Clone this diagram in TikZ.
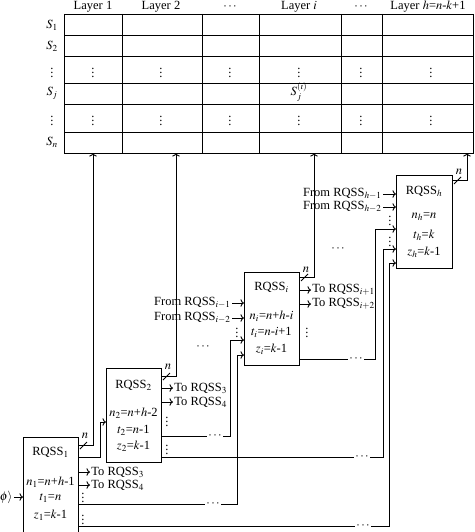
\documentclass[tikz,border=0pt]{standalone}
\usepackage{mathptmx}
\usepackage{fontspec}
\setmainfont{Liberation Serif}
\usetikzlibrary{arrows.meta, calc}

\begin{document}
\begin{tikzpicture}[x=1pt, y=-1pt, line width=0.9pt, >={To}, inner sep=0.5pt,
  font=\fontsize{12.5}{15}\selectfont,
  qbox/.style={draw, anchor=north west, inner sep=0pt, minimum width=55pt, minimum height=93pt},
  tolbl/.style={anchor=west, inner sep=1pt},
  fromlbl/.style={anchor=east, inner sep=1pt},
  dts/.style={fill=white, inner sep=1pt}]
\useasboundingbox (0,0) rectangle (474,532);
\foreach \y in {14,35,56,83,104,132,153} \draw (64,\y) -- (473.5,\y);
\foreach \x in {64,122,202,259,341,382,473.5} \draw (\x,14) -- (\x,153);
\foreach \x/\t in {93/Layer 1, 161/Layer 2, 230/$\cdots$, 299/Layer $i$, 361/$\cdots$, 428/Layer $h$=$n$-$k$+1}
  \node[anchor=base, inner sep=0pt] (hd\x) at (\x,10) {\t};
\foreach \y/\t in {25/$S_1$, 46/$S_2$, 70/$\vdots$, 93/$S_j$, 118/$\vdots$, 142/$S_n$}
  \node (rw\y) at (52,\y) {\t};
\foreach \x in {93,161,230,299,361,431} {
  \node (va\x) at (\x,70) {$\vdots$};
  \node (vb\x) at (\x,118) {$\vdots$};
}
\node (sji) at (299,92) {$S_j^{(i)}$};
\coordinate (in1) at (93,153);
\coordinate (in2) at (176,153);
\coordinate (ini) at (314,153);
\coordinate (inh) at (467,153);

\node[qbox, minimum height=100pt] (r1) at (23,437) {};
\node (t1) at (50.5,452) {RQSS$_1$};
\node (n1) at (50.5,482) {$n_1$=$n$+$h$-1};
\node (s1) at (50.5,498) {$t_1$=$n$};
\node (z1) at (50.5,515) {$z_1$=$k$-1};

\node[qbox, minimum height=94pt] (r2) at (106,368) {};
\node (t2) at (133.5,385) {RQSS$_2$};
\node (n2) at (133.5,413) {$n_2$=$n$+$h$-2};
\node (s2) at (133.5,430) {$t_2$=$n$-1};
\node (z2) at (133.5,446) {$z_2$=$k$-1};

\node[qbox] (ri) at (244,272) {};
\node (ti) at (271.5,287) {RQSS$_i$};
\node (ni) at (271.5,316) {$n_i$=$n$+$h$-$i$};
\node (si) at (271.5,332) {$t_i$=$n$-$i$+1};
\node (zi) at (271.5,349) {$z_i$=$k$-1};

\node[qbox, minimum width=56pt] (rh) at (396,175) {};
\node (th) at (424,191) {RQSS$_h$};
\node (nh) at (424,217) {$n_h$=$n$};
\node (sh) at (424,235) {$t_h$=$k$};
\node (zh) at (424,252) {$z_h$=$k$-1};

\node[anchor=east, inner sep=1pt] (phi) at (14,497) {$\phi\rangle$};
\draw[->] (phi.east) -- (phi.east -| r1.west);

\node[tolbl] (o13) at (90,472) {To RQSS$_3$};
\node[tolbl] (o14) at (90,485) {To RQSS$_4$};
\draw[->] (o13.west -| r1.east) -- (o13.west);
\draw[->] (o14.west -| r1.east) -- (o14.west);
\node (v1a) at (83,495) {$\vdots$};
\node (v1b) at (83,517) {$\vdots$};

\node[tolbl] (o23) at (173,388) {To RQSS$_3$};
\node[tolbl] (o24) at (173,402) {To RQSS$_4$};
\draw[->] (o23.west -| r2.east) -- (o23.west);
\draw[->] (o24.west -| r2.east) -- (o24.west);
\node (v2a) at (167,419) {$\vdots$};
\node (v2b) at (167,447) {$\vdots$};

\node[tolbl] (oi1) at (311,290) {To RQSS$_{i+1}$};
\node[tolbl] (oi2) at (311,304) {To RQSS$_{i+2}$};
\draw[->] (oi1.west -| ri.east) -- (oi1.west);
\draw[->] (oi2.west -| ri.east) -- (oi2.west);
\node (vi) at (307,330) {$\vdots$};

\node[fromlbl] (fi1) at (232,303) {From RQSS$_{i-1}$};
\node[fromlbl] (fi2) at (232,318) {From RQSS$_{i-2}$};
\draw[->] (fi1.east) -- (fi1.east -| ri.west);
\draw[->] (fi2.east) -- (fi2.east -| ri.west);
\node (vfi) at (237,330) {$\vdots$};

\node[fromlbl] (fh1) at (383,194) {From RQSS$_{h-1}$};
\node[fromlbl] (fh2) at (383,207) {From RQSS$_{h-2}$};
\draw[->] (fh1.east) -- (fh1.east -| rh.west);
\draw[->] (fh2.east) -- (fh2.east -| rh.west);
\node (vfh1) at (390,218) {$\vdots$};
\node (vfh2) at (390,239) {$\vdots$};

\draw[->] (r1.east |- 0,445) -| (in1);
\draw (80,449) -- (87,442);
\node (b1) at (85,436) {$n$};
\draw[->] (r2.east |- 0,376) -| (in2);
\draw (163,380) -- (170,373);
\node (b2) at (168,367) {$n$};
\draw[->] (ri.east |- 0,277) -| (ini);
\draw (301,281) -- (308,274);
\node (bi) at (306,270) {$n$};
\draw[->] (rh.east |- 0,180) -| (inh);
\draw (454,184) -- (461,177);
\node (bh) at (459,172) {$n$};

\draw[->] (r1.east |- 0,457) -| (100,422) -- (r2.west |- 0,422);
\draw[->] (r1.east |- 0,504) -| (237,355) -- (ri.west |- 0,355);
\draw[->] (r1.east |- 0,526) -| (389,263) -- (rh.west |- 0,263);
\draw[->] (r2.east |- 0,436) -| (230,340) -- (ri.west |- 0,340);
\draw[->] (r2.east |- 0,457) -| (383,249) -- (rh.west |- 0,249);
\draw[->] (ri.east |- 0,359) -| (375,229) -- (rh.west |- 0,229);
\node[dts] (d1) at (213,504) {$\cdots$};
\node[dts] (d2) at (363,526) {$\cdots$};
\node[dts] (d3) at (215,436) {$\cdots$};
\node[dts] (d4) at (362,457) {$\cdots$};
\node[dts] (d5) at (356,359) {$\cdots$};
\node (d6) at (203,347) {$\cdots$};
\node (d7) at (338,249) {$\cdots$};
\end{tikzpicture}
\end{document}
